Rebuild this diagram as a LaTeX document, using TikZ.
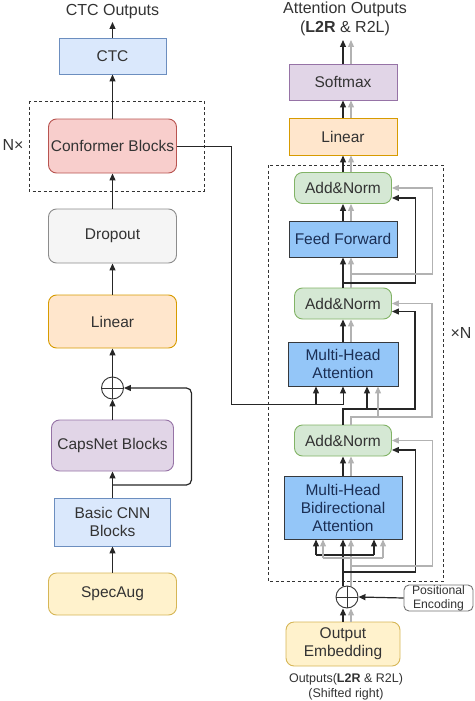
\documentclass[tikz,border=0pt]{standalone}
\usepackage{fontspec}
\setmainfont{Liberation Sans}
\usetikzlibrary{calc, arrows.meta, positioning}

\definecolor{txtgray}{HTML}{333333}
\definecolor{txtnavy}{HTML}{1B2F55}
\definecolor{bluefill}{HTML}{DAE8FC}
\definecolor{blueline}{HTML}{6C8EBF}
\definecolor{redfill}{HTML}{F8CECC}
\definecolor{redline}{HTML}{B85450}
\definecolor{grayfill}{HTML}{F5F5F5}
\definecolor{grayline}{HTML}{8C8C8C}
\definecolor{orfill}{HTML}{FFE6CC}
\definecolor{orline}{HTML}{D79B00}
\definecolor{purfill}{HTML}{E1D5E7}
\definecolor{purline}{HTML}{9673A6}
\definecolor{yelfill}{HTML}{FFF2CC}
\definecolor{yelline}{HTML}{D6B656}
\definecolor{grnfill}{HTML}{D5E8D4}
\definecolor{grnline}{HTML}{82B366}
\definecolor{attfill}{HTML}{94C6F8}
\definecolor{attline}{HTML}{36393D}

\tikzset{
  box/.style={draw, line width=0.9pt, align=center, inner sep=0pt, text=txtgray,
    font=\fontsize{15.5}{18}\selectfont},
  rbox/.style={box, rounded corners=8pt},
  attbox/.style={box, fill=attfill, draw=attline, text=txtnavy},
  anbox/.style={rbox, fill=grnfill, draw=grnline, minimum width=97pt, minimum height=31pt},
  lbl/.style={text=txtgray, align=center, font=\fontsize{16}{19}\selectfont},
  sumnode/.style={circle, draw=black!80, line width=0.9pt, minimum size=22pt, inner sep=0pt,
    path picture={\draw[black!80, line width=0.9pt]
      (path picture bounding box.north) -- (path picture bounding box.south)
      (path picture bounding box.west) -- (path picture bounding box.east);}},
  lnk/.style={line width=1.2pt, draw=black!85, -{Triangle[length=7pt,width=6pt]}},
  plain/.style={line width=1.2pt, draw=black!85},
  glnk/.style={line width=1.1pt, draw=black!30, -{Triangle[length=7pt,width=6pt]}},
  gplain/.style={line width=1.1pt, draw=black!30},
  dashbox/.style={draw=black!80, line width=1pt, dash pattern=on 3pt off 2.5pt}
}

\begin{document}
\begin{tikzpicture}[x=1pt, y=-1pt, >=Stealth, thick]
  \useasboundingbox (0,0) rectangle (474,701);

  % --- Repeat frames ---
  \draw[dashbox] (29,101) rectangle (204,191);
  \draw[dashbox] (268,165) rectangle (443,581);
  \node[lbl] (nleft) at (13,145) {N×};
  \node[lbl] (nright) at (461,333) {×N};

  % --- Encoder branch ---
  \node[rbox, fill=yelfill, draw=yelline, minimum width=128pt, minimum height=42pt] (spec) at (112.5,594) {SpecAug};
  \node[box, fill=bluefill, draw=blueline, minimum width=116pt, minimum height=48pt] (cnn) at (112.5,522) {Basic CNN\\Blocks};
  \node[rbox, fill=purfill, draw=purline, minimum width=122pt, minimum height=51pt] (caps) at (112.5,445.5) {CapsNet Blocks};
  \node[sumnode] (lplus) at (112.5,388) {};
  \node[rbox, fill=orfill, draw=orline, minimum width=128pt, minimum height=53pt] (llin) at (112.5,321.5) {Linear};
  \node[rbox, fill=grayfill, draw=grayline, minimum width=128pt, minimum height=54pt] (drop) at (112.5,236) {Dropout};
  \node[rbox, fill=redfill, draw=redline, minimum width=128pt, minimum height=54pt] (conf) at (112.5,146) {Conformer Blocks};
  \node[box, fill=bluefill, draw=blueline, minimum width=107pt, minimum height=36pt] (ctc) at (112.5,56) {CTC};
  \node[lbl] (ctcout) at (112.5,12) {CTC Outputs};
  \coordinate (ctcend) at (112.5,22);

  % --- Decoder branch ---
  \node[rbox, fill=yelfill, draw=yelline, minimum width=114pt, minimum height=44pt] (emb) at (343,644) {Output\\Embedding};
  \node[sumnode] (rplus) at (347,597) {};
  \node[draw=black!55, line width=0.9pt, rounded corners=5pt, fill=white, text=txtgray, align=center,
    inner sep=0pt, minimum width=69pt, minimum height=26pt,
    font=\fontsize{12.2}{14.3}\selectfont] (pos) at (438.5,598) {Positional\\Encoding};
  \node[attbox, minimum width=118pt, minimum height=63pt] (mhba) at (343,507.5) {Multi-Head\\Bidirectional\\Attention};
  \node[anbox] (an1) at (343,440.5) {Add\&Norm};
  \node[attbox, minimum width=110pt, minimum height=44pt] (mha) at (343,364) {Multi-Head\\Attention};
  \node[anbox] (an2) at (343,303.5) {Add\&Norm};
  \node[attbox, minimum width=108pt, minimum height=36pt] (ff) at (343,239) {Feed Forward};
  \node[anbox] (an3) at (343,188) {Add\&Norm};
  \node[box, fill=orfill, draw=orline, minimum width=108pt, minimum height=37pt] (rlin) at (343,136.5) {Linear};
  \node[box, fill=purfill, draw=purline, minimum width=108pt, minimum height=36pt] (soft) at (343,82) {Softmax};
  \node[lbl] (attout) at (345,19) {Attention Outputs\\(\textbf{L2R} \& R2L)};
  \node[text=txtgray, align=center, font=\fontsize{12.5}{15}\selectfont] (dec_in) at (346,687)
    {Outputs(\textbf{L2R} \& R2L)\\(Shifted right)};
  \coordinate (attend) at (343,40);

  % --- Encoder arrows ---
  \foreach \a/\b in {spec/cnn, cnn/caps, caps/lplus, lplus/llin, llin/drop, drop/conf, conf/ctc}
    \draw[lnk] (\a.north) -- (\b.south);
  \draw[lnk] (ctc.north) -- (ctcend);
  \coordinate (skip) at (112.5,485);
  \draw[lnk, rounded corners=5pt] (skip) -| ([xshift=67.5pt]lplus.east) -- (lplus.east);

  % --- Decoder spines (black L2R, gray R2L) ---
  \coordinate (sb) at (343,0);
  \coordinate (sg) at (351,0);
  \draw[lnk] (sb |- emb.north) -- (sb |- rplus.south);
  \draw[glnk] (sg |- emb.north) -- (sg |- rplus.south);
  \draw[lnk] (pos.west) -- (rplus.east);
  \draw[lnk] (sb |- rplus.north) -- (sb |- mhba.south);
  \draw[glnk] (sg |- rplus.north) -- (sg |- mhba.south);
  \foreach \a/\b in {mhba/an1, mha/an2, an2/ff, ff/an3, an3/rlin, rlin/soft} {
    \draw[lnk] (sb |- \a.north) -- (sb |- \b.south);
    \draw[glnk] (sg |- \a.north) -- (sg |- \b.south);
  }
  \draw[lnk] (sb |- soft.north) -- (attend);
  \draw[glnk] (sg |- soft.north) -- (sg |- attend);

  % --- Q, K, V into bidirectional attention ---
  \coordinate (qb) at (316,555);
  \coordinate (vb) at (374,555);
  \coordinate (qg) at (323,558);
  \coordinate (vg) at (383,558);
  \draw[plain] (qb) -- (vb);
  \draw[gplain] (qg) -- (vg);
  \draw[lnk] (qb) -- (qb |- mhba.south);
  \draw[lnk] (vb) -- (vb |- mhba.south);
  \draw[glnk] (qg) -- (qg |- mhba.south);
  \draw[glnk] (vg) -- (vg |- mhba.south);

  % --- Residuals ---
  \coordinate (r1b) at (343,572);
  \coordinate (r1g) at (351,566);
  \draw[lnk] (r1b) -| ([xshift=23.5pt,yshift=-9.5pt]an1.east) -- ([yshift=-9.5pt]an1.east);
  \draw[glnk] (r1g) -| ([xshift=40.5pt]an1.east) -- (an1.east);

  \coordinate (r2b) at (415,409);
  \coordinate (r2g) at (432,417);
  \coordinate (kb) at (367,409);
  \coordinate (kg) at (378,417);
  \draw[lnk] (sb |- an1.north) |- (r2b) |- ([yshift=-8pt]an2.east);
  \draw[glnk] (sg |- an1.north) |- (r2g) |- (an2.east);
  \draw[lnk] (kb) -- (kb |- mha.south);
  \draw[glnk] (kg) -- (kg |- mha.south);

  \coordinate (r3b) at (343,283);
  \coordinate (r3g) at (351,274);
  \draw[lnk] (r3b) -| ([xshift=23.5pt,yshift=-10pt]an3.east) -- ([yshift=-10pt]an3.east);
  \draw[glnk] (r3g) -| ([xshift=40.5pt]an3.east) -- (an3.east);

  % --- Encoder memory into cross attention ---
  \coordinate (mem) at (231,404);
  \coordinate (memk) at (316,404);
  \draw[lnk, line width=1pt] (conf.east) -| (mem) -| (sb |- mha.south);
  \draw[lnk] (memk) -- (memk |- mha.south);
\end{tikzpicture}
\end{document}
